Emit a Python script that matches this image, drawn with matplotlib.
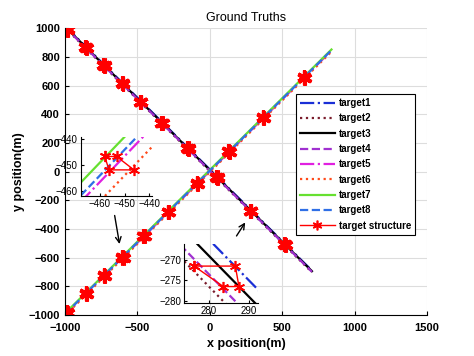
import matplotlib
matplotlib.use("Agg")
import matplotlib.pyplot as plt
import numpy as np

plt.rcParams['font.family'] = ['Liberation Sans', 'DejaVu Sans']

# line end points of each target track
desc_x = [-1000, 705]
asc_x = [-1000, 840]
target1_y = [1015, -690]
target2_y = [1003.5, -701.5]
target3_y = [1011, -694]
target4_y = [1006.5, -698.5]
target5_y = [-996.5, 843.5]
target6_y = [-1004, 836]
target7_y = [-989, 851]
target8_y = [-994, 846]

# structure centres (sampled instants) along both tracks
desc_cx = [-985, -855, -728, -602, -476, -330, -150, 52, 283.5, 519]
desc_cy = [990, 866, 738, 612, 485, 338, 160, -43, -274, -510]
asc_cx = [-983, -852, -728, -602, -453.4, -287, -86, 133, 370, 653]
asc_cy = [-980, -850, -724, -598, -449.2, -282, -82, 138, 375, 658]

# structure shape (vertex offsets from centre)
desc_dx = [-7.2, 3.1, 4.0, 0.1, -7.2]
desc_dy = [2.5, 2.5, -2.5, -2.5, 2.5]
asc_dx = [-4.6, 0.2, 7.2, -2.9, -4.6]
asc_dy = [2.6, 2.6, -2.6, -2.6, 2.6]

targets = [
    ("target1", desc_x, target1_y, dict(color="#1a2fd6", ls="-.")),
    ("target2", desc_x, target2_y, dict(color="#7a1c2c", ls=":")),
    ("target3", desc_x, target3_y, dict(color="black", ls="-")),
    ("target4", desc_x, target4_y, dict(color="#a030d0", ls="--")),
    ("target5", asc_x, target5_y, dict(color="#e020e0", ls="-.")),
    ("target6", asc_x, target6_y, dict(color="#ff4a1a", ls=":")),
    ("target7", asc_x, target7_y, dict(color="#66e030", ls="-")),
    ("target8", asc_x, target8_y, dict(color="#2f6fe6", ls="--")),
]

star = (6, 2, 0)


def draw_all(ax, ms, mew):
    for name, xs, ys, st in targets:
        ax.plot(xs, ys, lw=1.6, label=name, **st)
    first = True
    for cx, cy in zip(desc_cx, desc_cy):
        ax.plot(np.array(desc_dx) + cx, np.array(desc_dy) + cy, color="red",
                marker=star, ms=ms, mew=mew, lw=1.0,
                label="target structure" if first else None)
        first = False
    for cx, cy in zip(asc_cx, asc_cy):
        ax.plot(np.array(asc_dx) + cx, np.array(asc_dy) + cy, color="red",
                marker=star, ms=ms, mew=mew, lw=1.0)


fig = plt.figure(figsize=(4.74, 3.56), dpi=100)
ax = fig.add_axes([0.137, 0.115, 0.764, 0.806])
draw_all(ax, 10, 2.2)
ax.set_xlim(-1000, 1500)
ax.set_ylim(-1000, 1000)
ax.set_xticks([-1000, -500, 0, 500, 1000, 1500])
ax.set_yticks(np.arange(-1000, 1001, 200))
ax.grid(True, color="#dddddd", lw=0.8)
ax.set_axisbelow(True)
ax.spines["top"].set_visible(False)
ax.spines["right"].set_visible(False)
ax.tick_params(direction="in", length=3, labelsize=8)
ax.tick_params(axis="x", pad=6)
for lab in ax.get_xticklabels() + ax.get_yticklabels():
    lab.set_fontweight("bold")
ax.set_xlabel("x position(m)", fontsize=9, fontweight="bold", labelpad=3)
ax.set_ylabel("y position(m)", fontsize=9, fontweight="bold", labelpad=3)
ax.set_title("Ground Truths", fontsize=9, pad=5)

handles, labels = ax.get_legend_handles_labels()
leg = ax.legend(handles, labels, loc="upper left",
                bbox_to_anchor=(0.638, 0.77), borderaxespad=0,
                prop={"size": 7, "weight": "bold"}, handlelength=3.6,
                labelspacing=0.55, fancybox=False, framealpha=1,
                edgecolor="black", borderpad=0.4, handletextpad=0.4)
leg.get_frame().set_linewidth(0.8)
leg.legend_handles[-1].set_markersize(7)
leg.legend_handles[-1].set_markeredgewidth(1.2)

ax.annotate("", xy=(-620, -524), xytext=(-660, -287),
            arrowprops=dict(arrowstyle="->", color="black", lw=1))
ax.annotate("", xy=(255, -338), xytext=(174, -465),
            arrowprops=dict(arrowstyle="->", color="black", lw=1))

# zoom insets
ins1 = fig.add_axes([0.170, 0.449, 0.150, 0.165])
draw_all(ins1, 8, 1.2)
ins1.set_xlim(-467.8, -439)
ins1.set_ylim(-462, -439.2)
ins1.set_xticks([-460, -450, -440])
ins1.set_yticks([-460, -450, -440])

ins2 = fig.add_axes([0.3876, 0.148, 0.157, 0.1666])
draw_all(ins2, 8, 1.2)
ins2.set_xlim(273.7, 292.3)
ins2.set_ylim(-280.6, -266.1)
ins2.set_xticks([280, 290])
ins2.set_yticks([-280, -275, -270])

for a in (ins1, ins2):
    a.set_facecolor("none")
    a.spines["top"].set_visible(False)
    a.spines["right"].set_visible(False)
    a.tick_params(direction="in", length=2, labelsize=7, pad=2)

fig.savefig("out.png", dpi=100)
